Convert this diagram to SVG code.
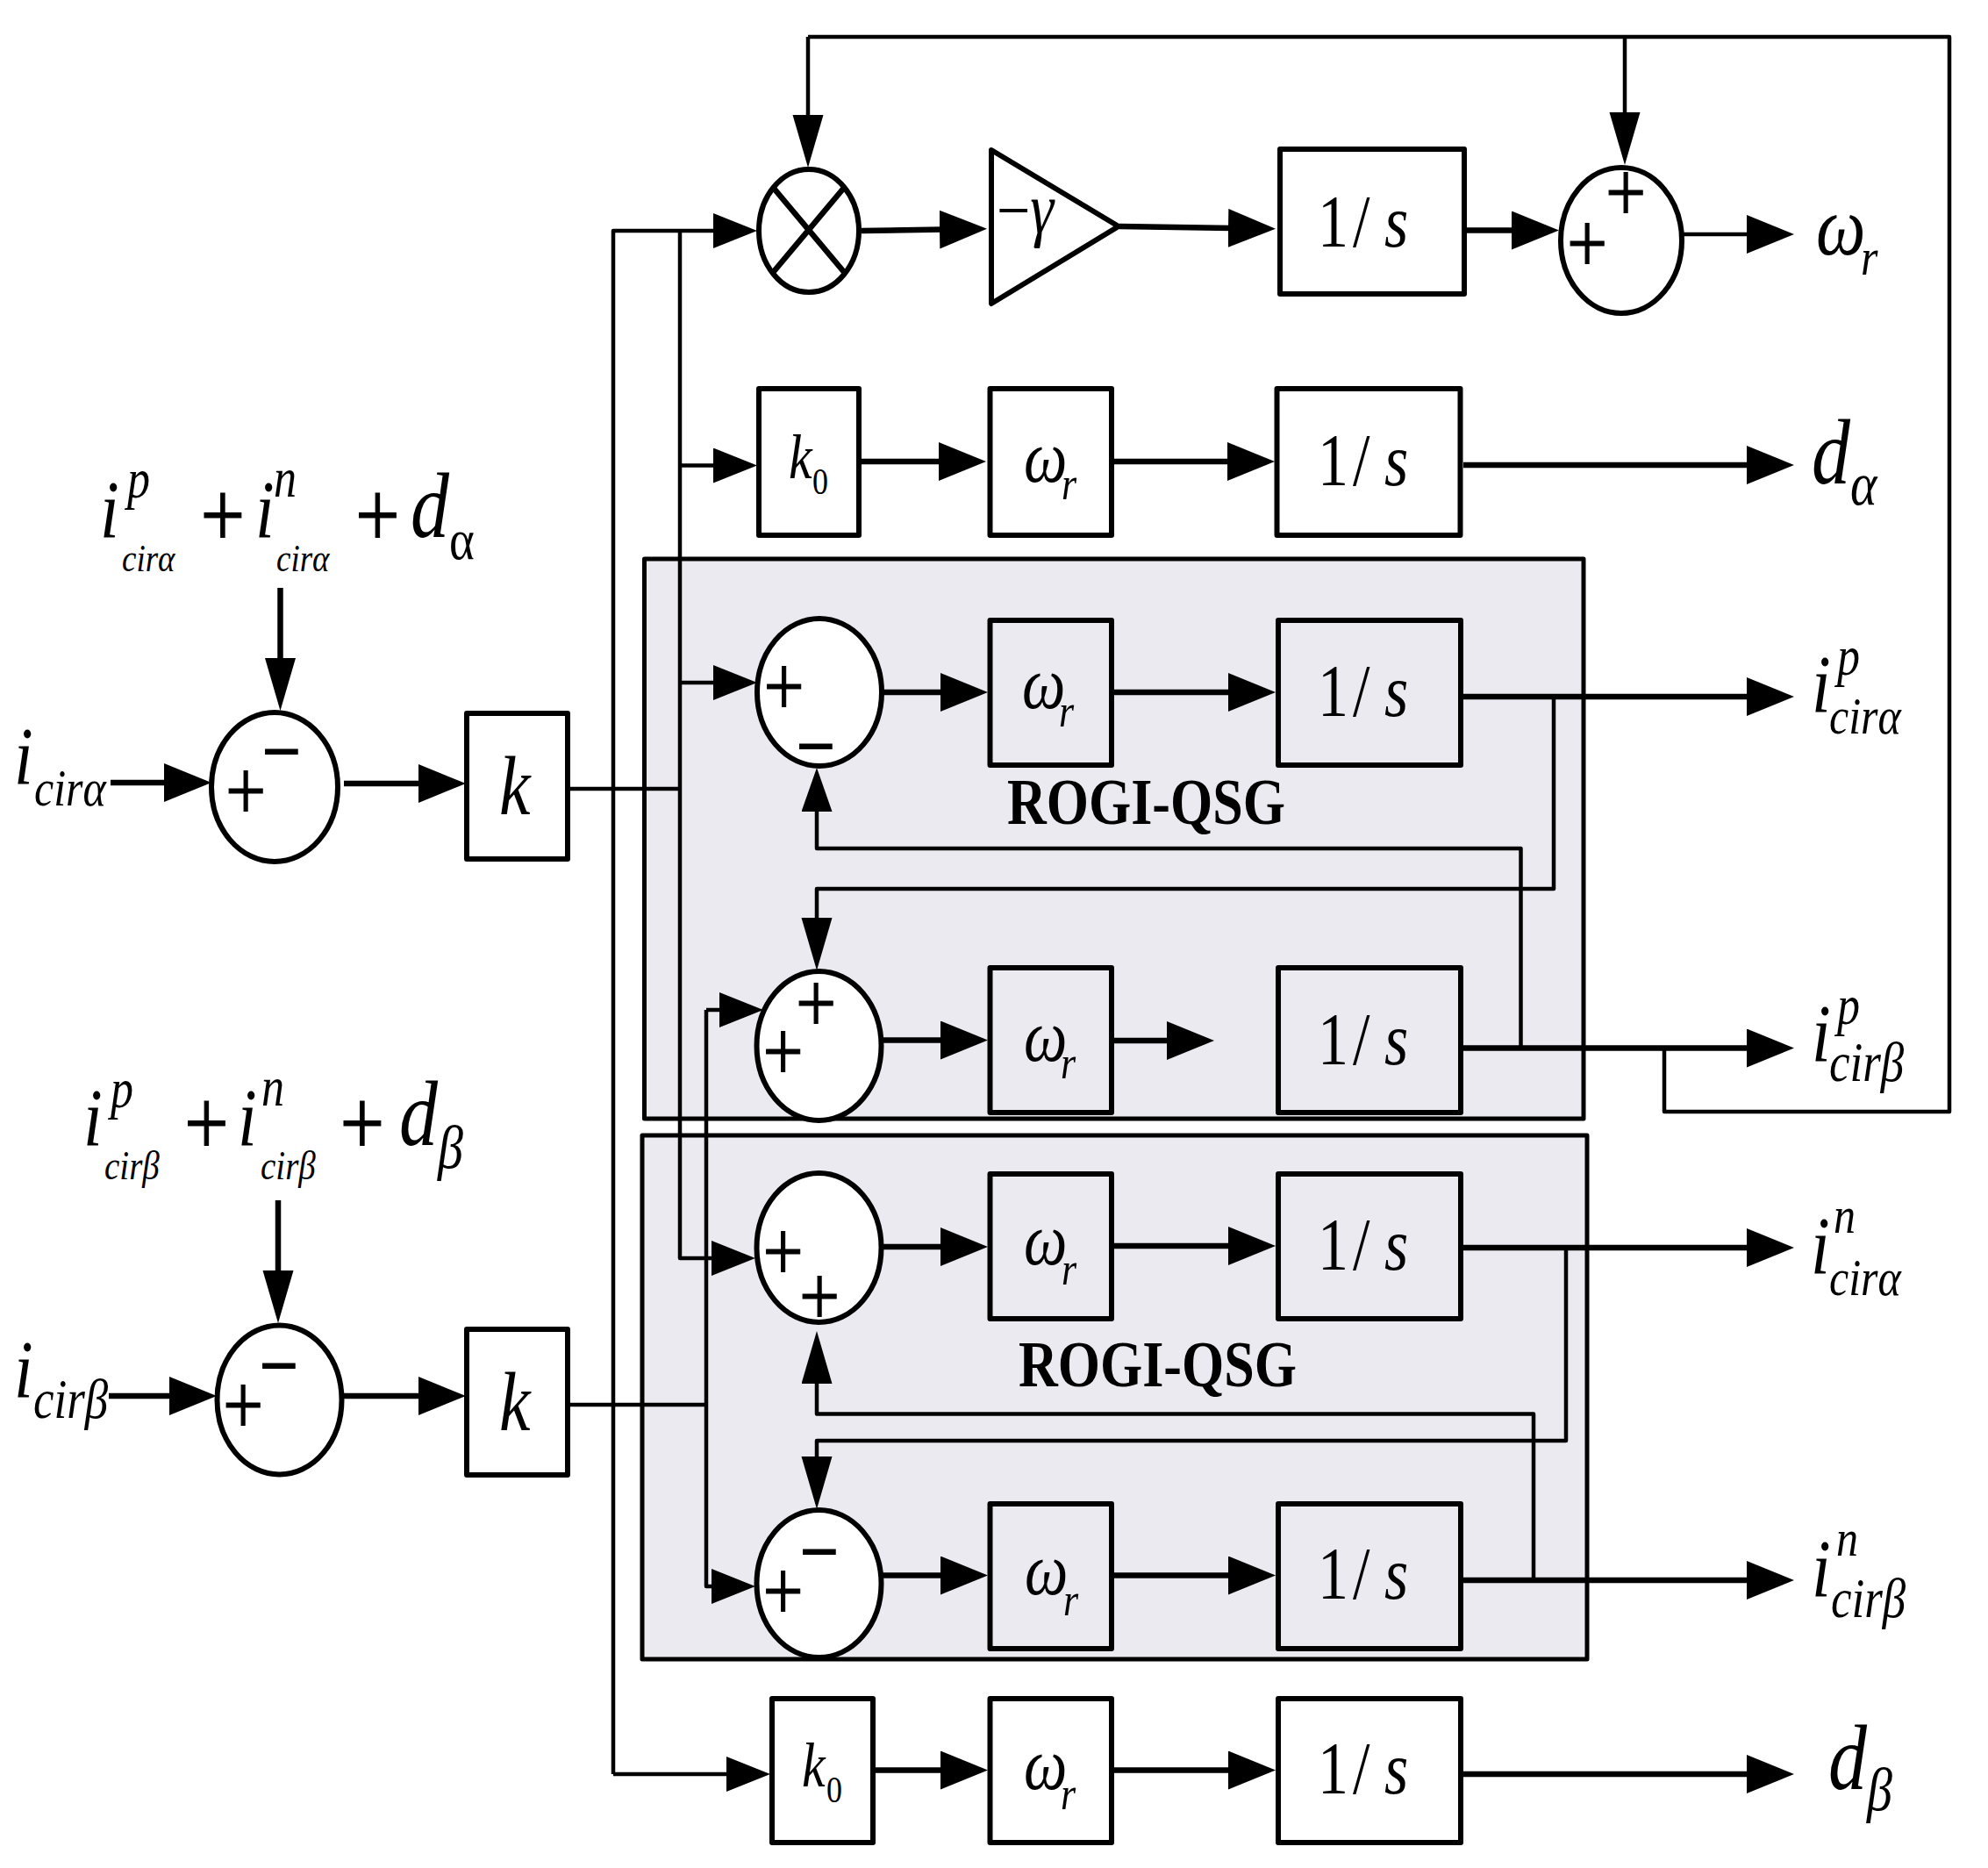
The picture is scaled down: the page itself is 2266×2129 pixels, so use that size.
<svg xmlns="http://www.w3.org/2000/svg" width="2266" height="2129" viewBox="0 0 2266 2129">
<style>
text{font-family:"Liberation Serif","Times New Roman",serif;fill:#000}
.i{font-style:italic}
.m{text-anchor:middle}
.b{font-weight:bold}
.p{text-anchor:middle;stroke:#000;stroke-width:1}
.q{text-anchor:middle;stroke:#000;stroke-width:1.4}
.s{fill:none;stroke:#000;stroke-width:6;stroke-linejoin:round}
.e{fill:#fff;stroke:#000;stroke-width:6}
.z{fill:#ECEAF1;stroke:#000;stroke-width:5;stroke-linejoin:round}
.n{fill:none;stroke:#000;stroke-width:4.5;stroke-linejoin:round}
.t{fill:none;stroke:#000;stroke-width:6.5;stroke-linejoin:round}
</style>
<defs>
<marker id="ah" markerUnits="userSpaceOnUse" markerWidth="56" markerHeight="46" refX="4" refY="22" orient="auto"><path d="M0,0L54,22L0,44Z"/></marker>
<marker id="as" markerUnits="userSpaceOnUse" markerWidth="52" markerHeight="42" refX="4" refY="20" orient="auto"><path d="M0,0L50,20L0,40Z"/></marker>
<marker id="av" markerUnits="userSpaceOnUse" markerWidth="62" markerHeight="38" refX="4" refY="17.5" orient="auto"><path d="M0,0L60,17.5L0,35Z"/></marker>
<marker id="au" markerUnits="userSpaceOnUse" markerWidth="52" markerHeight="38" refX="4" refY="17.5" orient="auto"><path d="M0,0L50,17.5L0,35Z"/></marker>
</defs>

<g id="rogi-qsg-p">
<rect class="z" x="734.5" y="637" width="1070.5" height="638"/>
<text class="b" transform="translate(1148 939) scale(1 1.2)" font-size="62">ROGI-QSG</text>
</g>
<g id="rogi-qsg-n">
<rect class="z" x="732" y="1294" width="1077" height="597"/>
<text class="b" transform="translate(1161 1580) scale(1 1.2)" font-size="62">ROGI-QSG</text>
</g>

<g id="connectors">
<path class="n" d="M921,42H2222V1267H1897V1194"/>
<path class="n" d="M921,42V135" marker-end="url(#av)"/>
<path class="n" d="M1852,42V132" marker-end="url(#av)"/>
<path class="n" d="M699,2022V263H817" marker-end="url(#as)"/>
<path class="n" d="M699,2022H832" marker-end="url(#as)"/>
<path class="n" d="M775,263V1434H815" marker-end="url(#as)"/>
<path class="n" d="M775,530.5H817" marker-end="url(#as)"/>
<path class="n" d="M775,778H817" marker-end="url(#as)"/>
<path class="n" d="M650,899H775"/>
<path class="n" d="M650,1601H805"/>
<path class="n" d="M805,1151V1808H815" marker-end="url(#as)"/>
<path class="n" d="M805,1151H824" marker-end="url(#as)"/>
<path class="t" d="M126,892H191" marker-end="url(#ah)"/>
<path class="t" d="M392,893H481" marker-end="url(#ah)"/>
<path class="t" d="M319.5,670V754" marker-end="url(#av)"/>
<path class="t" d="M124,1591H197" marker-end="url(#ah)"/>
<path class="t" d="M390,1591H481" marker-end="url(#ah)"/>
<path class="t" d="M317,1368V1452" marker-end="url(#av)"/>
<path class="t" d="M982,263L1075,261.5" marker-end="url(#ah)"/>
<path class="t" d="M1276,258L1404,260" marker-end="url(#ah)"/>
<path class="t" d="M1671,262.5H1727" marker-end="url(#ah)"/>
<path class="n" d="M1919,267H1995" marker-end="url(#ah)"/>
<path class="t" d="M981,526H1074" marker-end="url(#ah)"/>
<path class="t" d="M1269,526H1403" marker-end="url(#ah)"/>
<path class="t" d="M1668,530H1995" marker-end="url(#ah)"/>
<path class="t" d="M1006,789H1076" marker-end="url(#ah)"/>
<path class="t" d="M1269,789H1404" marker-end="url(#ah)"/>
<path class="t" d="M1667,794H1995" marker-end="url(#ah)"/>
<path class="n" d="M1771,794V1013H931V1050" marker-end="url(#av)"/>
<path class="n" d="M1733.5,1194V967H931V921" marker-end="url(#au)"/>
<path class="t" d="M1004,1185.5H1076" marker-end="url(#ah)"/>
<path class="t" d="M1269,1186H1334" marker-end="url(#ah)"/>
<path class="t" d="M1667,1194.5H1995" marker-end="url(#ah)"/>
<path class="t" d="M1004,1421H1076" marker-end="url(#ah)"/>
<path class="t" d="M1269,1420H1404" marker-end="url(#ah)"/>
<path class="t" d="M1667,1422H1995" marker-end="url(#ah)"/>
<path class="n" d="M1785,1422V1642H931V1664" marker-end="url(#av)"/>
<path class="n" d="M1748,1801V1611.5H931V1573" marker-end="url(#av)"/>
<path class="t" d="M1004,1795.5H1076" marker-end="url(#ah)"/>
<path class="t" d="M1269,1795.5H1404" marker-end="url(#ah)"/>
<path class="t" d="M1667,1801H1995" marker-end="url(#ah)"/>
<path class="t" d="M997,2017.5H1076" marker-end="url(#ah)"/>
<path class="t" d="M1269,2017.5H1404" marker-end="url(#ah)"/>
<path class="t" d="M1667,2022H1995" marker-end="url(#ah)"/>
</g>

<g id="label-alpha-sum">
<text class="i" transform="translate(114 612) scale(1 1.2)" font-size="78">i</text>
<text class="i" transform="translate(145 567) scale(1 1.2)" font-size="52">p</text>
<text class="i" transform="translate(139 651) scale(1 1.2)" font-size="37">cirα</text>
<text class="p" transform="translate(254 623) scale(1 1.2)" font-size="90">+</text>
<text class="i" transform="translate(291 612) scale(1 1.2)" font-size="78">i</text>
<text class="i" transform="translate(312 566) scale(1 1.2)" font-size="52">n</text>
<text class="i" transform="translate(315 651) scale(1 1.2)" font-size="37">cirα</text>
<text class="p" transform="translate(430.5 623) scale(1 1.2)" font-size="90">+</text>
<text class="i" transform="translate(468 612) scale(1 1.2)" font-size="88">d</text>
<text transform="translate(512 637) scale(1 1.2)" font-size="55">α</text>
</g>
<g id="label-i-alpha">
<text class="i" transform="translate(16 893) scale(1 1.2)" font-size="78">i</text>
<text class="i" transform="translate(39 918) scale(1 1.2)" font-size="50">cirα</text>
</g>
<g id="sum-alpha">
<ellipse class="e" cx="313" cy="897" rx="72" ry="85"/>
<text class="p" transform="translate(280 935) scale(1 1.2)" font-size="82">+</text>
<text class="q" transform="translate(321 888) scale(1 1.2)" font-size="78">−</text>
</g>
<g id="gain-k-alpha">
<rect class="s" x="532" y="813" width="115" height="166"/>
<text class="i" transform="translate(569 928) scale(1 1.2)" font-size="80">k</text>
</g>

<g id="label-beta-sum">
<text class="i" transform="translate(95 1305) scale(1 1.2)" font-size="78">i</text>
<text class="i" transform="translate(126 1262) scale(1 1.2)" font-size="52">p</text>
<text class="i" transform="translate(119 1344) scale(1 1.2)" font-size="39">cirβ</text>
<text class="p" transform="translate(235.5 1316) scale(1 1.2)" font-size="90">+</text>
<text class="i" transform="translate(271 1305) scale(1 1.2)" font-size="78">i</text>
<text class="i" transform="translate(298 1260) scale(1 1.2)" font-size="52">n</text>
<text class="i" transform="translate(297 1344) scale(1 1.2)" font-size="39">cirβ</text>
<text class="p" transform="translate(413 1316) scale(1 1.2)" font-size="90">+</text>
<text class="i" transform="translate(455 1305) scale(1 1.2)" font-size="88">d</text>
<text class="i" transform="translate(499 1331) scale(1 1.2)" font-size="58">β</text>
</g>
<g id="label-i-beta">
<text class="i" transform="translate(16 1592) scale(1 1.2)" font-size="78">i</text>
<text class="i" transform="translate(38 1616) scale(1 1.2)" font-size="53">cirβ</text>
</g>
<g id="sum-beta">
<ellipse class="e" cx="318.5" cy="1595.5" rx="71" ry="85"/>
<text class="p" transform="translate(277 1635) scale(1 1.2)" font-size="82">+</text>
<text class="q" transform="translate(318 1588) scale(1 1.2)" font-size="78">−</text>
</g>
<g id="gain-k-beta">
<rect class="s" x="532" y="1515" width="115" height="166"/>
<text class="i" transform="translate(569 1630) scale(1 1.2)" font-size="80">k</text>
</g>

<g id="multiplier">
<ellipse class="e" cx="922" cy="263" rx="57" ry="70"/>
<path class="t" d="M881.5,214L962,310M962,214L881.5,310"/>
</g>
<g id="gamma">
<path class="s" d="M1130,171L1275,258L1130,346Z"/>
<text transform="translate(1136 265) scale(1 1.2)" font-size="68"><tspan dy="2">−</tspan><tspan class="i" dy="-2">γ</tspan></text>
</g>
<g id="int-1">
<rect class="s" x="1459" y="170" width="210" height="165"/>
<text transform="translate(1502 281) scale(1 1.2)" font-size="70">1<tspan x="40">/</tspan><tspan class="i" x="76">s</tspan></text>
</g>
<g id="sum-omega">
<ellipse class="e" cx="1848" cy="274" rx="69" ry="83"/>
<text class="p" transform="translate(1853 253) scale(1 1.2)" font-size="82">+</text>
<text class="p" transform="translate(1809 311) scale(1 1.2)" font-size="82">+</text>
</g>
<g id="out-omega">
<text class="i" transform="translate(2070 290) scale(1 1.2)" font-size="80">ω</text>
<text class="i" transform="translate(2121 313) scale(1 1.2)" font-size="50">r</text>
</g>

<g id="k0-alpha">
<rect class="s" x="865" y="443" width="114" height="167"/>
<text class="i" transform="translate(899 545) scale(1 1.2)" font-size="60">k</text>
<text transform="translate(926 563) scale(1 1.2)" font-size="36">0</text>
</g>
<g id="omega-2">
<rect class="s" x="1128.5" y="443" width="138.5" height="167"/>
<text class="i" transform="translate(1167 549) scale(1 1.2)" font-size="70">ω</text>
<text class="i" transform="translate(1210 569) scale(1 1.2)" font-size="44">r</text>
</g>
<g id="int-2">
<rect class="s" x="1455.5" y="443" width="209" height="167"/>
<text transform="translate(1502 553) scale(1 1.2)" font-size="70">1<tspan x="40">/</tspan><tspan class="i" x="76">s</tspan></text>
</g>
<g id="out-d-alpha">
<text class="i" transform="translate(2065 551) scale(1 1.2)" font-size="88">d</text>
<text class="i" transform="translate(2109 575) scale(1 1.2)" font-size="58">α</text>
</g>

<g id="sum-3">
<ellipse class="e" cx="934" cy="789" rx="71" ry="84"/>
<text class="p" transform="translate(893.5 816) scale(1 1.2)" font-size="82">+</text>
<text class="q" transform="translate(930 882) scale(1 1.2)" font-size="78">−</text>
</g>
<g id="omega-3">
<rect class="s" x="1128.5" y="707" width="138.5" height="165"/>
<text class="i" transform="translate(1165 807) scale(1 1.2)" font-size="70">ω</text>
<text class="i" transform="translate(1207 828) scale(1 1.2)" font-size="44">r</text>
</g>
<g id="int-3">
<rect class="s" x="1457" y="707" width="208" height="165"/>
<text transform="translate(1502 815.5) scale(1 1.2)" font-size="70">1<tspan x="40">/</tspan><tspan class="i" x="76">s</tspan></text>
</g>
<g id="out-ip-alpha">
<text class="i" transform="translate(2065 810.5) scale(1 1.2)" font-size="78">i</text>
<text class="i" transform="translate(2094 769) scale(1 1.2)" font-size="52">p</text>
<text class="i" transform="translate(2085 836) scale(1 1.2)" font-size="50">cirα</text>
</g>

<g id="sum-4">
<ellipse class="e" cx="933.5" cy="1192" rx="71" ry="85"/>
<text class="p" transform="translate(930 1177) scale(1 1.2)" font-size="82">+</text>
<text class="p" transform="translate(892.5 1232) scale(1 1.2)" font-size="82">+</text>
</g>
<g id="omega-4">
<rect class="s" x="1128.5" y="1103" width="138.5" height="165"/>
<text class="i" transform="translate(1167 1209) scale(1 1.2)" font-size="70">ω</text>
<text class="i" transform="translate(1209 1229) scale(1 1.2)" font-size="44">r</text>
</g>
<g id="int-4">
<rect class="s" x="1457" y="1103" width="208" height="165"/>
<text transform="translate(1502 1213) scale(1 1.2)" font-size="70">1<tspan x="40">/</tspan><tspan class="i" x="76">s</tspan></text>
</g>
<g id="out-ip-beta">
<text class="i" transform="translate(2065 1209) scale(1 1.2)" font-size="78">i</text>
<text class="i" transform="translate(2094 1167) scale(1 1.2)" font-size="52">p</text>
<text class="i" transform="translate(2085 1232) scale(1 1.2)" font-size="53">cirβ</text>
</g>

<g id="sum-5">
<ellipse class="e" cx="933.5" cy="1422" rx="71" ry="85"/>
<text class="p" transform="translate(892.5 1460) scale(1 1.2)" font-size="82">+</text>
<text class="p" transform="translate(934 1511) scale(1 1.2)" font-size="82">+</text>
</g>
<g id="omega-5">
<rect class="s" x="1128.5" y="1338" width="138.5" height="165"/>
<text class="i" transform="translate(1167 1441) scale(1 1.2)" font-size="70">ω</text>
<text class="i" transform="translate(1210 1464) scale(1 1.2)" font-size="44">r</text>
</g>
<g id="int-5">
<rect class="s" x="1457" y="1338" width="208" height="165"/>
<text transform="translate(1502 1447) scale(1 1.2)" font-size="70">1<tspan x="40">/</tspan><tspan class="i" x="76">s</tspan></text>
</g>
<g id="out-in-alpha">
<text class="i" transform="translate(2064 1450.5) scale(1 1.2)" font-size="78">i</text>
<text class="i" transform="translate(2090 1405) scale(1 1.2)" font-size="50">n</text>
<text class="i" transform="translate(2085 1475.5) scale(1 1.2)" font-size="50">cirα</text>
</g>

<g id="sum-6">
<ellipse class="e" cx="933.5" cy="1805" rx="71" ry="84"/>
<text class="p" transform="translate(892.5 1847) scale(1 1.2)" font-size="82">+</text>
<text class="q" transform="translate(934 1800) scale(1 1.2)" font-size="78">−</text>
</g>
<g id="omega-6">
<rect class="s" x="1128.5" y="1714" width="138.5" height="165"/>
<text class="i" transform="translate(1168 1817) scale(1 1.2)" font-size="70">ω</text>
<text class="i" transform="translate(1212 1841) scale(1 1.2)" font-size="44">r</text>
</g>
<g id="int-6">
<rect class="s" x="1457" y="1714" width="208" height="165"/>
<text transform="translate(1502 1822) scale(1 1.2)" font-size="70">1<tspan x="40">/</tspan><tspan class="i" x="76">s</tspan></text>
</g>
<g id="out-in-beta">
<text class="i" transform="translate(2065 1818.5) scale(1 1.2)" font-size="78">i</text>
<text class="i" transform="translate(2093 1773) scale(1 1.2)" font-size="50">n</text>
<text class="i" transform="translate(2087 1843) scale(1 1.2)" font-size="53">cirβ</text>
</g>

<g id="k0-beta">
<rect class="s" x="880" y="1936" width="115" height="164"/>
<text class="i" transform="translate(914 2036) scale(1 1.2)" font-size="60">k</text>
<text transform="translate(942 2054) scale(1 1.2)" font-size="36">0</text>
</g>
<g id="omega-7">
<rect class="s" x="1128.5" y="1936" width="138.5" height="164"/>
<text class="i" transform="translate(1167 2039) scale(1 1.2)" font-size="70">ω</text>
<text class="i" transform="translate(1209 2062) scale(1 1.2)" font-size="44">r</text>
</g>
<g id="int-7">
<rect class="s" x="1457" y="1936" width="208" height="164"/>
<text transform="translate(1502 2044) scale(1 1.2)" font-size="70">1<tspan x="40">/</tspan><tspan class="i" x="76">s</tspan></text>
</g>
<g id="out-d-beta">
<text class="i" transform="translate(2084 2039) scale(1 1.2)" font-size="88">d</text>
<text class="i" transform="translate(2128 2063) scale(1 1.2)" font-size="58">β</text>
</g>
</svg>
